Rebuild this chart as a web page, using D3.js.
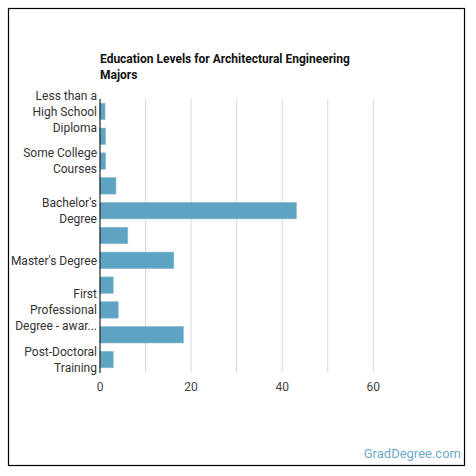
<!DOCTYPE html>
<html><head><meta charset="utf-8">
<script src="https://cdn.jsdelivr.net/npm/d3@7"></script>
<style>body{margin:0;background:#fff}svg{display:block;font-family:Roboto,"Noto Sans",sans-serif}</style>
</head><body>
<svg id="c" width="476" height="476"></svg>
<script>
const categories = ["Less than a High School Diploma","High School Diploma","Some College Courses","Associate's Degree","Bachelor's Degree","Post-Baccalaureate Certificate","Master's Degree","Post-Master's Certificate","First Professional Degree - awarded for completion of a program","Doctoral Degree","Post-Doctoral Training"];
const values = [1.1, 1.2, 1.2, 3.5, 43.1, 6.1, 16.2, 2.9, 4.0, 18.3, 2.9];
const shownLabels = [["Less than a","High School","Diploma"],null,["Some College","Courses"],null,["Bachelor's","Degree"],null,["Master's Degree"],null,["First","Professional","Degree - awar..."],null,["Post-Doctoral","Training"]];
const xTicks = [0,10,20,30,40,50,60];
const xTickLabels = [0,20,40,60];
const title = ["Education Levels for Architectural Engineering","Majors"];

const svg = d3.select("#c");
svg.append("rect").attr("x",8.5).attr("y",8.5).attr("width",456).attr("height",457).attr("fill","none").attr("stroke","#000").attr("stroke-width",1.2);

const m = {l:100, t:99, r:373.3, b:372};
const x = d3.scaleLinear().domain([0,60]).range([m.l,m.r]);
const y = d3.scaleBand().domain(categories).range([m.t,m.b]).paddingInner(0.34).paddingOuter(0.17);

svg.append("g").selectAll("line").data(xTicks.slice(1)).join("line")
  .attr("x1",d=>x(d)).attr("x2",d=>x(d)).attr("y1",m.t).attr("y2",m.b)
  .attr("stroke","#d8d8d8").attr("stroke-width",1);

svg.append("g").selectAll("rect").data(values).join("rect")
  .attr("x",x(0)).attr("y",(d,i)=>y(categories[i]))
  .attr("width",d=>x(d)-x(0)).attr("height",y.bandwidth())
  .attr("fill","#5ea4c2").attr("stroke","#7fb8d0").attr("stroke-width",0.6);

svg.append("line").attr("x1",m.l).attr("x2",m.l).attr("y1",m.t).attr("y2",m.b+1).attr("stroke","#222").attr("stroke-width",1.2);

const lab = svg.append("g").attr("font-size",12).attr("fill","#333").attr("text-anchor","end");
shownLabels.forEach((lines,i)=>{
  if(!lines) return;
  const cy = y(categories[i]) + y.bandwidth()/2;
  const lh = 16;
  const y0 = cy - (lines.length-1)*lh/2;
  lines.forEach((t,j)=>{
    lab.append("text").attr("x",m.l-3).attr("y",y0+j*lh).attr("dy","0.35em").text(t);
  });
});

svg.append("g").attr("font-size",12).attr("fill","#444").attr("text-anchor","middle")
  .selectAll("text").data(xTickLabels).join("text")
  .attr("x",d=>x(d)).attr("y",387).attr("dy","0.35em").text(d=>d);

svg.append("g").attr("font-size",12).attr("font-weight","bold").attr("fill","#111")
  .selectAll("text").data(title).join("text")
  .attr("x",100).attr("y",(d,i)=>59+i*16).attr("dy","0.35em").text(d=>d);

svg.append("text").attr("x",461).attr("y",453).attr("dy","0.35em").attr("text-anchor","end")
  .attr("font-size",13).attr("fill","#6aaac8").text("GradDegree.com");
</script>
</body></html>
